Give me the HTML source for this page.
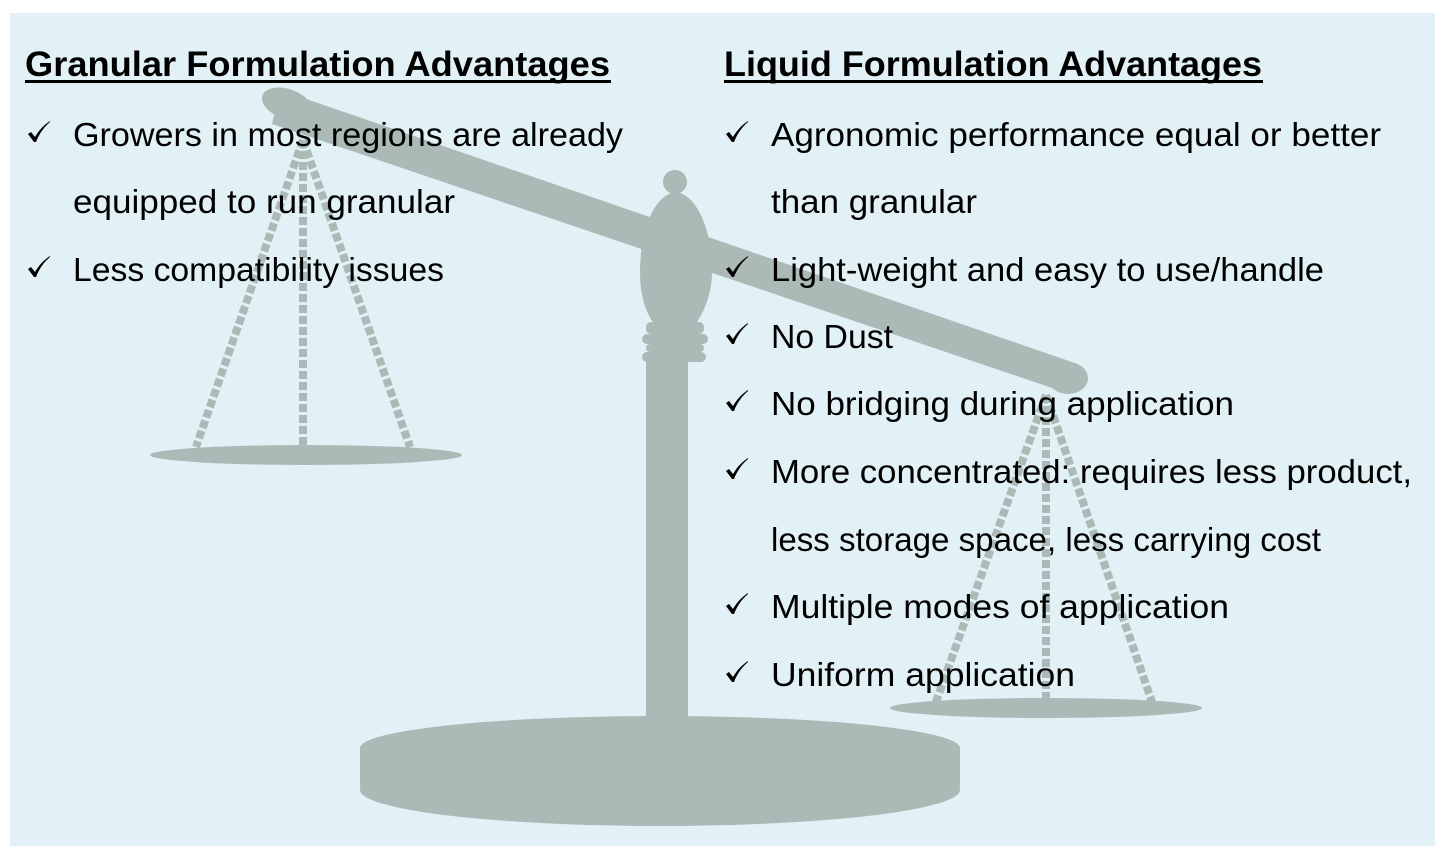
<!DOCTYPE html>
<html><head><meta charset="utf-8"><style>
html,body{margin:0;padding:0;background:#fff;}
svg{display:block;}
text{font-family:"Liberation Sans",sans-serif;fill:#000;}
</style></head><body>
<svg width="1444" height="846" viewBox="0 0 1444 846" xmlns="http://www.w3.org/2000/svg">
<defs>
  <path id="ck" d="M0,10 L3,8 L7,13 C11,6 16,1 22,-3 L22,-2 C16,3 11,10 8,18 L6,18 Z" fill="#000"/>
</defs>
<rect x="10" y="13" width="1425" height="833" fill="#e2f1f5"/>
<g fill="#abbab6" stroke="none">
  <polygon points="280,90 1072,362 1064,392 272,124"/>
  <ellipse cx="287" cy="104" rx="26" ry="15" transform="rotate(19 287 104)"/>
  <ellipse cx="1068" cy="378" rx="20" ry="16"/>
  <circle cx="675" cy="182" r="12"/>
  <path d="M676,192 C700,195 714,240 712,275 C711,300 700,318 695,325 L655,325 C648,316 640,300 640,272 C640,235 652,195 676,192Z"/>
  <rect x="646" y="322" width="58" height="12" rx="5"/>
  <rect x="642" y="334" width="66" height="10" rx="5"/>
  <rect x="646" y="344" width="58" height="8" rx="4"/>
  <rect x="642" y="352" width="64" height="10" rx="5"/>
  <rect x="646" y="360" width="42" height="370"/>
  <ellipse cx="660" cy="748" rx="300" ry="32"/>
  <rect x="360" y="748" width="600" height="40"/>
  <ellipse cx="660" cy="790" rx="300" ry="36"/>
  <ellipse cx="306" cy="455" rx="156" ry="10"/>
  <ellipse cx="1046" cy="708" rx="156" ry="10"/>
</g>
<g stroke="#abbab6" stroke-width="8" stroke-dasharray="8 3" fill="none">
  <line x1="303" y1="140" x2="196" y2="447"/>
  <line x1="303" y1="140" x2="303" y2="447"/>
  <line x1="303" y1="140" x2="410" y2="447"/>
  <line x1="1046" y1="395" x2="936" y2="702"/>
  <line x1="1046" y1="395" x2="1046" y2="702"/>
  <line x1="1046" y1="395" x2="1152" y2="702"/>
</g>
<g font-size="35">
  <text x="25" y="76" font-weight="bold" textLength="585" lengthAdjust="spacingAndGlyphs">Granular Formulation Advantages</text>
  <rect x="25" y="80" width="586" height="3" fill="#000"/>
  <text x="724" y="76" font-weight="bold" textLength="538" lengthAdjust="spacingAndGlyphs">Liquid Formulation Advantages</text>
  <rect x="724" y="80" width="539" height="3" fill="#000"/>
</g>
<use href="#ck" x="28" y="124"/>
<use href="#ck" x="28" y="259"/>
<use href="#ck" x="726" y="124"/>
<use href="#ck" x="726" y="259"/>
<use href="#ck" x="726" y="326"/>
<use href="#ck" x="726" y="393"/>
<use href="#ck" x="726" y="461"/>
<use href="#ck" x="726" y="596"/>
<use href="#ck" x="726" y="664"/>
<g font-size="33">
  <text x="73" y="146" textLength="550" lengthAdjust="spacingAndGlyphs">Growers in most regions are already</text>
  <text x="73" y="213" textLength="382" lengthAdjust="spacingAndGlyphs">equipped to run granular</text>
  <text x="73" y="281" textLength="371" lengthAdjust="spacingAndGlyphs">Less compatibility issues</text>
  <text x="771" y="146" textLength="610" lengthAdjust="spacingAndGlyphs">Agronomic performance equal or better</text>
  <text x="771" y="213" textLength="206" lengthAdjust="spacingAndGlyphs">than granular</text>
  <text x="771" y="281" textLength="553" lengthAdjust="spacingAndGlyphs">Light-weight and easy to use/handle</text>
  <text x="771" y="348" textLength="122" lengthAdjust="spacingAndGlyphs">No Dust</text>
  <text x="771" y="415" textLength="463" lengthAdjust="spacingAndGlyphs">No bridging during application</text>
  <text x="771" y="483" textLength="641" lengthAdjust="spacingAndGlyphs">More concentrated: requires less product,</text>
  <text x="771" y="551" textLength="550" lengthAdjust="spacingAndGlyphs">less storage space, less carrying cost</text>
  <text x="771" y="618" textLength="458" lengthAdjust="spacingAndGlyphs">Multiple modes of application</text>
  <text x="771" y="686" textLength="304" lengthAdjust="spacingAndGlyphs">Uniform application</text>
</g>
</svg>
</body></html>
